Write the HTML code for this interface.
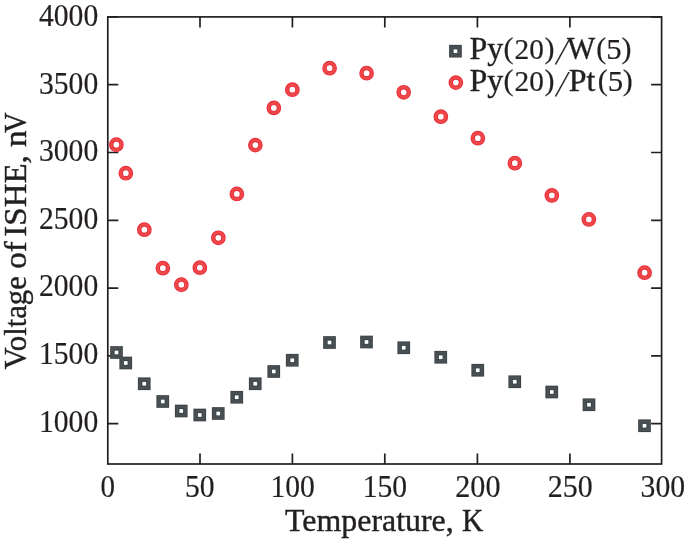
<!DOCTYPE html>
<html lang="en"><head><meta charset="utf-8"><title>Voltage of ISHE vs Temperature</title>
<style>
html,body{margin:0;padding:0;background:#fff;}
#fig{position:relative;width:685px;height:540px;overflow:hidden;background:#fff;}
#fig svg{position:absolute;left:0;top:0;display:block;}
.t{position:absolute;left:0;top:0;width:0;height:30px;margin:0;font:30px/30px "Liberation Serif",serif;color:#231f20;white-space:pre;}
.t span{display:inline-block;width:0;height:30px;vertical-align:baseline;transform-origin:0 25px;-webkit-text-stroke:0.2px #231f20;}
.t span.b{-webkit-text-stroke-width:0.4px;}
</style></head><body>
<div id="fig">
<svg width="685" height="540" viewBox="0 0 685 540">
<rect width="685" height="540" fill="#fff"/>
<g stroke="#231f20" stroke-width="1.7" fill="none" stroke-linecap="butt">
<rect x="107.8" y="16.9" width="553.80" height="447.10"/>
<path d="M107.8 16.90h10.5M661.6 16.90h-10.5"/>
<path d="M107.8 84.70h10.5M661.6 84.70h-10.5"/>
<path d="M107.8 152.50h10.5M661.6 152.50h-10.5"/>
<path d="M107.8 220.30h10.5M661.6 220.30h-10.5"/>
<path d="M107.8 288.10h10.5M661.6 288.10h-10.5"/>
<path d="M107.8 355.90h10.5M661.6 355.90h-10.5"/>
<path d="M107.8 423.70h10.5M661.6 423.70h-10.5"/>
<path d="M200.00 464.0v-10.5M200.00 16.9v10.5"/>
<path d="M292.40 464.0v-10.5M292.40 16.9v10.5"/>
<path d="M384.80 464.0v-10.5M384.80 16.9v10.5"/>
<path d="M477.40 464.0v-10.5M477.40 16.9v10.5"/>
<path d="M569.90 464.0v-10.5M569.90 16.9v10.5"/>
</g>
<g fill="none" stroke="#3b4246" stroke-width="4.5">
<rect x="112.40" y="348.40" width="8.2" height="8.2"/>
<rect x="121.65" y="358.90" width="8.2" height="8.2"/>
<rect x="140.15" y="379.65" width="8.2" height="8.2"/>
<rect x="158.65" y="397.40" width="8.2" height="8.2"/>
<rect x="177.15" y="406.90" width="8.2" height="8.2"/>
<rect x="195.65" y="410.90" width="8.2" height="8.2"/>
<rect x="214.15" y="409.40" width="8.2" height="8.2"/>
<rect x="232.65" y="393.15" width="8.2" height="8.2"/>
<rect x="251.15" y="379.65" width="8.2" height="8.2"/>
<rect x="269.65" y="367.40" width="8.2" height="8.2"/>
<rect x="288.15" y="356.15" width="8.2" height="8.2"/>
<rect x="325.40" y="338.40" width="8.2" height="8.2"/>
<rect x="362.40" y="337.90" width="8.2" height="8.2"/>
<rect x="399.65" y="343.65" width="8.2" height="8.2"/>
<rect x="436.65" y="353.15" width="8.2" height="8.2"/>
<rect x="473.65" y="366.15" width="8.2" height="8.2"/>
<rect x="510.65" y="377.65" width="8.2" height="8.2"/>
<rect x="547.65" y="387.90" width="8.2" height="8.2"/>
<rect x="584.90" y="400.65" width="8.2" height="8.2"/>
<rect x="640.40" y="421.65" width="8.2" height="8.2"/>
<rect x="451.35" y="47.10" width="8.2" height="8.2"/>
</g>
<g fill="none" stroke="#495054" stroke-width="2.7">
<rect x="112.40" y="348.40" width="8.2" height="8.2"/>
<rect x="121.65" y="358.90" width="8.2" height="8.2"/>
<rect x="140.15" y="379.65" width="8.2" height="8.2"/>
<rect x="158.65" y="397.40" width="8.2" height="8.2"/>
<rect x="177.15" y="406.90" width="8.2" height="8.2"/>
<rect x="195.65" y="410.90" width="8.2" height="8.2"/>
<rect x="214.15" y="409.40" width="8.2" height="8.2"/>
<rect x="232.65" y="393.15" width="8.2" height="8.2"/>
<rect x="251.15" y="379.65" width="8.2" height="8.2"/>
<rect x="269.65" y="367.40" width="8.2" height="8.2"/>
<rect x="288.15" y="356.15" width="8.2" height="8.2"/>
<rect x="325.40" y="338.40" width="8.2" height="8.2"/>
<rect x="362.40" y="337.90" width="8.2" height="8.2"/>
<rect x="399.65" y="343.65" width="8.2" height="8.2"/>
<rect x="436.65" y="353.15" width="8.2" height="8.2"/>
<rect x="473.65" y="366.15" width="8.2" height="8.2"/>
<rect x="510.65" y="377.65" width="8.2" height="8.2"/>
<rect x="547.65" y="387.90" width="8.2" height="8.2"/>
<rect x="584.90" y="400.65" width="8.2" height="8.2"/>
<rect x="640.40" y="421.65" width="8.2" height="8.2"/>
<rect x="451.35" y="47.10" width="8.2" height="8.2"/>
</g>
<g fill="none" stroke="#ea2b3b" stroke-width="4.5">
<circle cx="116.35" cy="144.70" r="5.1"/>
<circle cx="125.85" cy="173.20" r="5.1"/>
<circle cx="144.35" cy="229.70" r="5.1"/>
<circle cx="162.85" cy="268.20" r="5.1"/>
<circle cx="181.35" cy="284.70" r="5.1"/>
<circle cx="199.85" cy="267.70" r="5.1"/>
<circle cx="218.35" cy="237.80" r="5.1"/>
<circle cx="236.85" cy="193.95" r="5.1"/>
<circle cx="255.35" cy="145.10" r="5.1"/>
<circle cx="273.85" cy="107.95" r="5.1"/>
<circle cx="292.35" cy="89.70" r="5.1"/>
<circle cx="329.60" cy="68.20" r="5.1"/>
<circle cx="366.60" cy="73.20" r="5.1"/>
<circle cx="403.70" cy="92.30" r="5.1"/>
<circle cx="440.85" cy="116.70" r="5.1"/>
<circle cx="477.85" cy="138.20" r="5.1"/>
<circle cx="514.85" cy="163.20" r="5.1"/>
<circle cx="551.85" cy="195.45" r="5.1"/>
<circle cx="588.85" cy="219.45" r="5.1"/>
<circle cx="644.60" cy="272.70" r="5.1"/>
<circle cx="455.85" cy="82.60" r="5.1"/>
</g>
<g fill="none" stroke="#ee4848" stroke-width="2.7">
<circle cx="116.35" cy="144.70" r="5.1"/>
<circle cx="125.85" cy="173.20" r="5.1"/>
<circle cx="144.35" cy="229.70" r="5.1"/>
<circle cx="162.85" cy="268.20" r="5.1"/>
<circle cx="181.35" cy="284.70" r="5.1"/>
<circle cx="199.85" cy="267.70" r="5.1"/>
<circle cx="218.35" cy="237.80" r="5.1"/>
<circle cx="236.85" cy="193.95" r="5.1"/>
<circle cx="255.35" cy="145.10" r="5.1"/>
<circle cx="273.85" cy="107.95" r="5.1"/>
<circle cx="292.35" cy="89.70" r="5.1"/>
<circle cx="329.60" cy="68.20" r="5.1"/>
<circle cx="366.60" cy="73.20" r="5.1"/>
<circle cx="403.70" cy="92.30" r="5.1"/>
<circle cx="440.85" cy="116.70" r="5.1"/>
<circle cx="477.85" cy="138.20" r="5.1"/>
<circle cx="514.85" cy="163.20" r="5.1"/>
<circle cx="551.85" cy="195.45" r="5.1"/>
<circle cx="588.85" cy="219.45" r="5.1"/>
<circle cx="644.60" cy="272.70" r="5.1"/>
<circle cx="455.85" cy="82.60" r="5.1"/>
</g>
</svg>
<div class="t"><span style="transform:translate(38.96px,1.10px) scale(0.9870,1.0200)">4000</span></div>
<div class="t"><span style="transform:translate(38.96px,69.10px) scale(0.9870,1.0200)">3500</span></div>
<div class="t"><span style="transform:translate(38.96px,136.10px) scale(0.9870,1.0200)">3000</span></div>
<div class="t"><span style="transform:translate(38.96px,204.10px) scale(0.9870,1.0200)">2500</span></div>
<div class="t"><span style="transform:translate(38.96px,271.10px) scale(0.9870,1.0200)">2000</span></div>
<div class="t"><span style="transform:translate(38.96px,339.10px) scale(0.9870,1.0200)">1500</span></div>
<div class="t"><span style="transform:translate(38.96px,407.10px) scale(0.9870,1.0200)">1000</span></div>
<div class="t"><span style="transform:translate(100.39px,472.10px) scale(0.9676,1.0200)">0</span></div>
<div class="t"><span style="transform:translate(185.01px,472.10px) scale(0.9871,1.0200)">50</span></div>
<div class="t"><span style="transform:translate(270.41px,472.10px) scale(0.9870,1.0200)">100</span></div>
<div class="t"><span style="transform:translate(362.71px,472.10px) scale(0.9870,1.0200)">150</span></div>
<div class="t"><span style="transform:translate(455.26px,472.10px) scale(1.0041,1.0200)">200</span></div>
<div class="t"><span style="transform:translate(547.87px,472.10px) scale(0.9971,1.0200)">250</span></div>
<div class="t"><span style="transform:translate(640.61px,472.10px) scale(0.9893,1.0200)">300</span></div>
<div class="t"><span class="b" style="transform:translate(285.10px,506.10px) scale(1.0627,1.0750)">Temperature, </span><span class="b" style="transform:translate(462.04px,506.10px) scale(0.9861,1.0750)">K</span></div>
<div class="t"><span class="b" style="transform:translate(25.80px,344.40px) rotate(-90deg) scale(1.0228,1.0300)">Voltage </span><span class="b" style="transform:translate(25.80px,243.63px) rotate(-90deg) scale(1.0995,1.0300)">of </span><span class="b" style="transform:translate(25.80px,211.63px) rotate(-90deg) scale(1.0988,1.0300)">ISHE, </span><span class="b" style="transform:translate(25.80px,122.02px) rotate(-90deg) scale(1.1011,1.0300)">n</span><span class="b" style="transform:translate(25.80px,108.00px) rotate(-90deg) scale(0.9554,1.0300)">V</span></div>
<div class="t"><span class="b" style="transform:translate(469.60px,34.10px) scale(1.0604,1.0600)">Py</span><span style="transform:translate(503.56px,33.10px) scale(1.0000,0.9500)">(</span><span style="transform:translate(514.58px,34.10px) scale(0.9778,0.9900)">20</span><span style="transform:translate(544.56px,33.10px) scale(1.0000,0.9500)">)</span><span style="transform:translate(554.90px,38.60px) skewX(-15deg) scale(1.0000,1.2100)">/</span><span class="b" style="transform:translate(566.90px,34.10px) scale(0.9932,1.0600)">W</span><span style="transform:translate(596.36px,33.10px) scale(1.0000,0.9500)">(</span><span style="transform:translate(606.16px,34.10px) scale(1.0272,0.9900)">5</span><span style="transform:translate(621.46px,33.10px) scale(1.0000,0.9500)">)</span></div>
<div class="t"><span class="b" style="transform:translate(469.60px,66.10px) scale(1.0604,1.0600)">Py</span><span style="transform:translate(503.56px,65.10px) scale(1.0000,0.9500)">(</span><span style="transform:translate(514.58px,66.10px) scale(0.9778,0.9900)">20</span><span style="transform:translate(544.56px,65.10px) scale(1.0000,0.9500)">)</span><span style="transform:translate(554.90px,70.60px) skewX(-15deg) scale(1.0000,1.2100)">/</span><span class="b" style="transform:translate(568.80px,66.10px) scale(1.0627,1.0600)">Pt</span><span style="transform:translate(597.86px,65.10px) scale(1.0000,0.9500)">(</span><span style="transform:translate(607.66px,66.10px) scale(1.0272,0.9900)">5</span><span style="transform:translate(622.66px,65.10px) scale(1.0000,0.9500)">)</span></div>
</div>
</body></html>
